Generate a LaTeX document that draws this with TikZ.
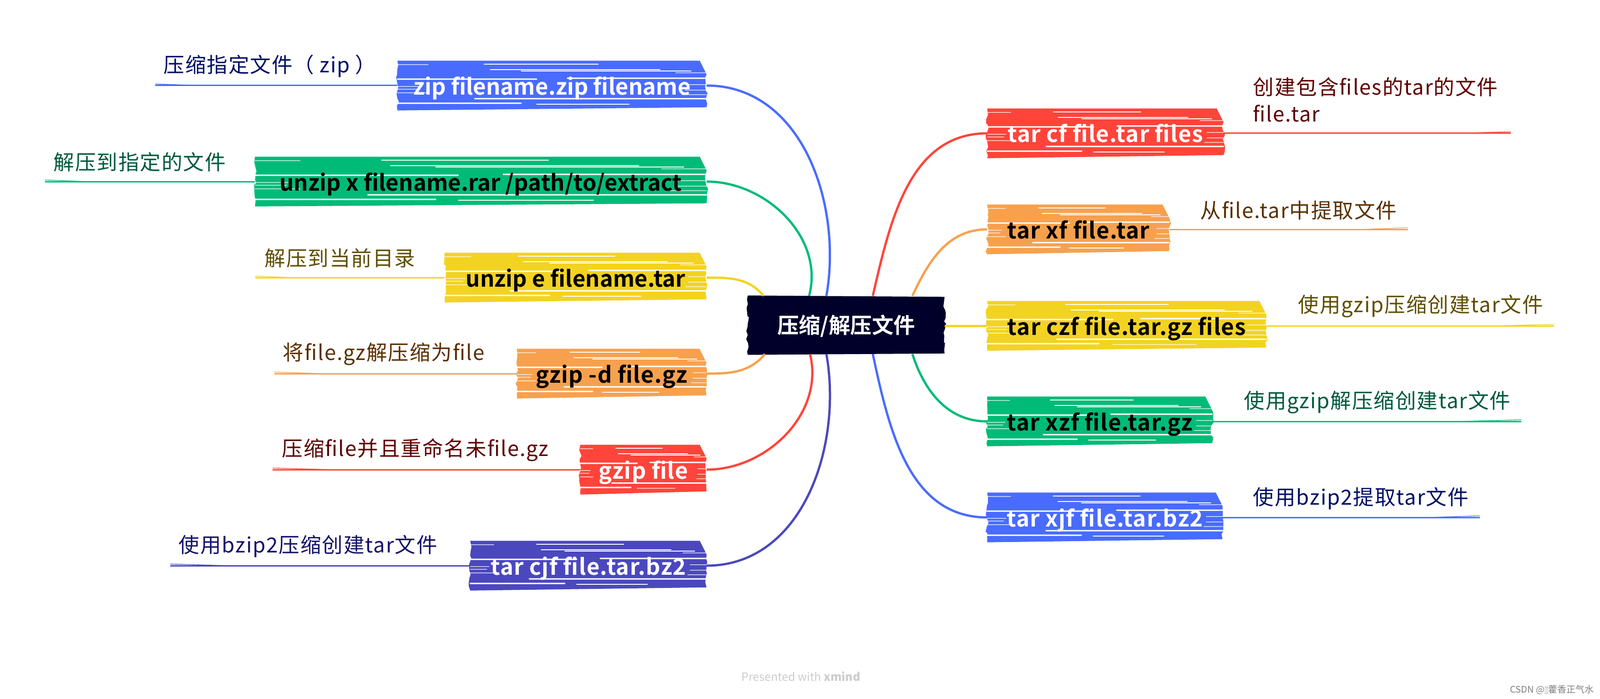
\documentclass[tikz,border=0pt]{standalone}
\usepackage{fontspec}
\setmainfont{Noto Sans CJK SC}
\newfontfamily\boldcjk{Noto Sans CJK SC Bold}
\newfontfamily\boldwide[LetterSpace=2.6]{Noto Sans CJK SC Bold}
\newfontfamily\leaffont[LetterSpace=4]{Noto Sans CJK SC}
\newfontfamily\symfont{DejaVu Sans}
\usepackage{tikz}
\usetikzlibrary{backgrounds,calc,decorations.pathmorphing}

\definecolor{blueB}{HTML}{4A6BFF}
\definecolor{greenB}{HTML}{00BB78}
\definecolor{yellowB}{HTML}{F3D321}
\definecolor{orangeB}{HTML}{F7A14E}
\definecolor{redB}{HTML}{FF443B}
\definecolor{indigoB}{HTML}{4B48BE}
\definecolor{rootB}{HTML}{00002A}
\definecolor{blueT}{HTML}{000E66}
\definecolor{greenT}{HTML}{005A3C}
\definecolor{yellowT}{HTML}{5E4E00}
\definecolor{orangeT}{HTML}{5A3000}
\definecolor{redT}{HTML}{5F0000}
\definecolor{indigoT}{HTML}{14126A}

\tikzset{
  rootbox/.style={text=white,minimum width=4.31cm,minimum height=1.26cm,inner sep=0pt,text height=.43cm,text depth=.05cm,font=\boldcjk\fontsize{13.5}{16}\selectfont},
  branch/.style={text=black,minimum height=1.08cm,inner sep=0pt,text height=.44cm,text depth=.04cm,font=\boldcjk\fontsize{14}{16}\selectfont},
  widebranch/.style={branch,font=\boldwide\fontsize{14}{16}\selectfont},
  whitebranch/.style={widebranch,text=white},
  leaftext/.style={anchor=west,inner sep=0pt,font=\leaffont\fontsize{13}{17}\selectfont},
  curve/.style={line width=.5mm},
  twig/.style={line width=.3mm},
  streak/.style={white,line width=.12mm,line cap=round},
  cutstreak/.style={white,line width=.3mm,line cap=round},
  rough/.style={decoration={random steps,segment length=2.5pt,amplitude=1pt}},
}

% rough fill behind a node, with white strokes
\newcommand{\brush}[2]{
  \begin{scope}[on background layer]
    \fill[#2,rough] (#1.north west) -- ($(#1.north east)+(-.15,0)$) -- ($(#1.north east)+(0,.3)$)
      decorate {-- ($(#1.south east)+(0,-.07)$)} -- (#1.south west) decorate {-- (#1.north west)} -- cycle;
    \foreach \fa/\fb/\fy in {.3/.85/-.35,.4/.95/-.32,.28/.65/-.47,.0/.1/-.46,.9/1/-.28,.45/.75/.41,.0/.08/.02,.0/.07/.08,.0/.1/.16,.93/1/.1,.92/1/.2,.93/1/-.02}
      \draw[streak] ($(#1.west)!\fa!(#1.east)+(0,\fy)$) -- ($(#1.west)!\fb!(#1.east)+(0,\fy)$);
    \foreach \fa/\fb/\fy in {0/.45/-.14,.55/1/-.16,.25/1/.29,0/.4/.39}
      \draw[cutstreak] ($(#1.west)!\fa!(#1.east)+(0,\fy)$) -- ($(#1.west)!\fb!(#1.east)+(0,\fy)$);
  \end{scope}
}
% leaf line with a loose strand at its free end
\newcommand{\leafline}[3]{
  \draw[twig,#3] (#1) -- (#2);
  \draw[#3,thin] ($(#2)+(0,-.035)$) -- ($(#2)!.2!(#1)$);
}

\begin{document}
\begin{tikzpicture}[yscale=-1]
  \useasboundingbox (0,0) rectangle (35.16,15.36);

  \node[rootbox] (root) at (18.595,7.13) {压缩/解压文件};
  \begin{scope}[on background layer]
    \fill[rootB,rough] (root.north west) -- ($(root.north east)+(0,.03)$) decorate {-- (root.south east)} -- ($(root.south west)+(0,.03)$) decorate {-- (root.north west)} -- cycle;
  \end{scope}

  % left side
  \node[branch,text=white,minimum width=6.78cm] (zip) at (12.13,1.88) {zip filename.zip filename};
  \node[branch,minimum width=9.91cm] (unzipx) at (10.565,3.99) {unzip x filename.rar /path/to/extract};
  \node[branch,minimum width=5.74cm] (unzipe) at (12.65,6.10) {unzip e filename.tar};
  \node[widebranch,minimum width=4.15cm] (gzipd) at (13.44,8.21) {gzip -d file.gz};
  \node[whitebranch,minimum width=2.76cm] (gzipf) at (14.14,10.32) {gzip file};
  \node[whitebranch,minimum width=5.18cm] (cjf) at (12.93,12.43) {tar cjf file.tar.bz2};

  % right side
  \node[whitebranch,minimum width=5.18cm] (cf) at (24.29,2.93) {tar cf file.tar files};
  \node[widebranch,minimum width=3.99cm] (xf) at (23.695,5.04) {tar xf file.tar};
  \node[widebranch,minimum width=6.12cm] (czf) at (24.76,7.16) {tar czf file.tar.gz files};
  \node[widebranch,minimum width=4.93cm] (xzf) at (24.165,9.26) {tar xzf file.tar.gz};
  \node[whitebranch,minimum width=5.16cm] (xjf) at (24.28,11.37) {tar xjf file.tar.bz2};

  \brush{zip}{blueB}
  \brush{unzipx}{greenB}
  \brush{unzipe}{yellowB}
  \brush{gzipd}{orangeB}
  \brush{gzipf}{redB}
  \brush{cjf}{indigoB}
  \brush{cf}{redB}
  \brush{xf}{orangeB}
  \brush{czf}{yellowB}
  \brush{xzf}{greenB}
  \brush{xjf}{blueB}

  % ends of the curves on the root
  \coordinate (rootA) at (18.16,6.5);
  \coordinate (rootB) at (17.78,6.5);
  \coordinate (rootC) at (16.78,6.5);
  \coordinate (rootD) at (16.81,7.78);
  \coordinate (rootE) at (17.8,7.78);
  \coordinate (rootF) at (18.16,7.78);
  \coordinate (rootG) at (19.18,6.5);
  \coordinate (rootH) at (20.05,6.5);
  \coordinate (rootI) at (20.05,7.78);
  \coordinate (rootJ) at (19.18,7.78);

  \draw[curve,blueB] (zip.east) to[out=0,in=-80] (rootA);
  \draw[curve,greenB] (unzipx.east) to[out=0,in=-75] (rootB);
  \draw[curve,yellowB] (unzipe.east) to[out=0,in=-130] (rootC);
  \draw[curve,orangeB] (gzipd.east) to[out=0,in=130] (rootD);
  \draw[curve,redB] (gzipf.east) to[out=0,in=76] (rootE);
  \draw[curve,indigoB] (cjf.east) to[out=0,in=80] (rootF);
  \draw[curve,redB] (cf.west) to[out=180,in=-77] (rootG);
  \draw[curve,orangeB] (xf.west) to[out=180,in=-65] (rootH);
  \draw[curve,yellowB] (czf.west) -- (root.east |- czf.west);
  \draw[curve,greenB] (xzf.west) to[out=180,in=72] (rootI);
  \draw[curve,blueB] (xjf.west) to[out=180,in=78] (rootJ);

  % leaves
  \coordinate (zipEnd) at (3.41,1.88);
  \coordinate (unzipxEnd) at (0.99,3.99);
  \coordinate (unzipeEnd) at (5.61,6.10);
  \coordinate (gzipdEnd) at (6.03,8.21);
  \coordinate (gzipfEnd) at (5.99,10.32);
  \coordinate (cjfEnd) at (3.74,12.43);
  \coordinate (cfEnd) at (33.2,2.93);
  \coordinate (xfEnd) at (30.94,5.04);
  \coordinate (czfEnd) at (34.15,7.16);
  \coordinate (xzfEnd) at (33.43,9.26);
  \coordinate (xjfEnd) at (32.52,11.37);

  \leafline{zip.west}{zipEnd}{blueB}
  \leafline{unzipx.west}{unzipxEnd}{greenB}
  \leafline{unzipe.west}{unzipeEnd}{yellowB}
  \leafline{gzipd.west}{gzipdEnd}{orangeB}
  \leafline{gzipf.west}{gzipfEnd}{redB}
  \leafline{cjf.west}{cjfEnd}{indigoB}
  \leafline{cf.east}{cfEnd}{redB}
  \leafline{xf.east}{xfEnd}{orangeB}
  \leafline{czf.east}{czfEnd}{yellowB}
  \leafline{xzf.east}{xzfEnd}{greenB}
  \leafline{xjf.east}{xjfEnd}{blueB}

  \node[leaftext,text=blueT] (zipText) at (3.59,1.45) {压缩指定文件（ zip ）};
  \node[leaftext,text=greenT] (unzipxText) at (1.17,3.56) {解压到指定的文件};
  \node[leaftext,text=yellowT] (unzipeText) at (5.81,5.67) {解压到当前目录};
  \node[leaftext,text=orangeT] (gzipdText) at (6.21,7.78) {将file.gz解压缩为file};
  \node[leaftext,text=redT] (gzipfText) at (6.19,9.89) {压缩file并且重命名未file.gz};
  \node[leaftext,text=indigoT] (cjfText) at (3.92,12.0) {使用bzip2压缩创建tar文件};
  \node[leaftext,text=redT,align=left] (cfText) at (27.53,2.19) {创建包含files的tar的文件\\file.tar};
  \node[leaftext,text=orangeT] (xfText) at (26.37,4.62) {从file.tar中提取文件};
  \node[leaftext,text=yellowT] (czfText) at (28.52,6.73) {使用gzip压缩创建tar文件};
  \node[leaftext,text=greenT] (xzfText) at (27.33,8.84) {使用gzip解压缩创建tar文件};
  \node[leaftext,text=blueT] (xjfText) at (27.53,10.95) {使用bzip2提取tar文件};

  \node[text=black!20,inner sep=0pt,font=\fontsize{7.1}{8}\selectfont] (credit) at (17.6,14.86) {Presented with \textbf{xmind}};
  \node[text=black!50,inner sep=0pt,anchor=east,font=\fontsize{5.7}{7}\selectfont] (mark) at (35.03,15.16) {CSDN @\scalebox{.35}[1]{\symfont ▯▯}藿香正气水};
\end{tikzpicture}
\end{document}
